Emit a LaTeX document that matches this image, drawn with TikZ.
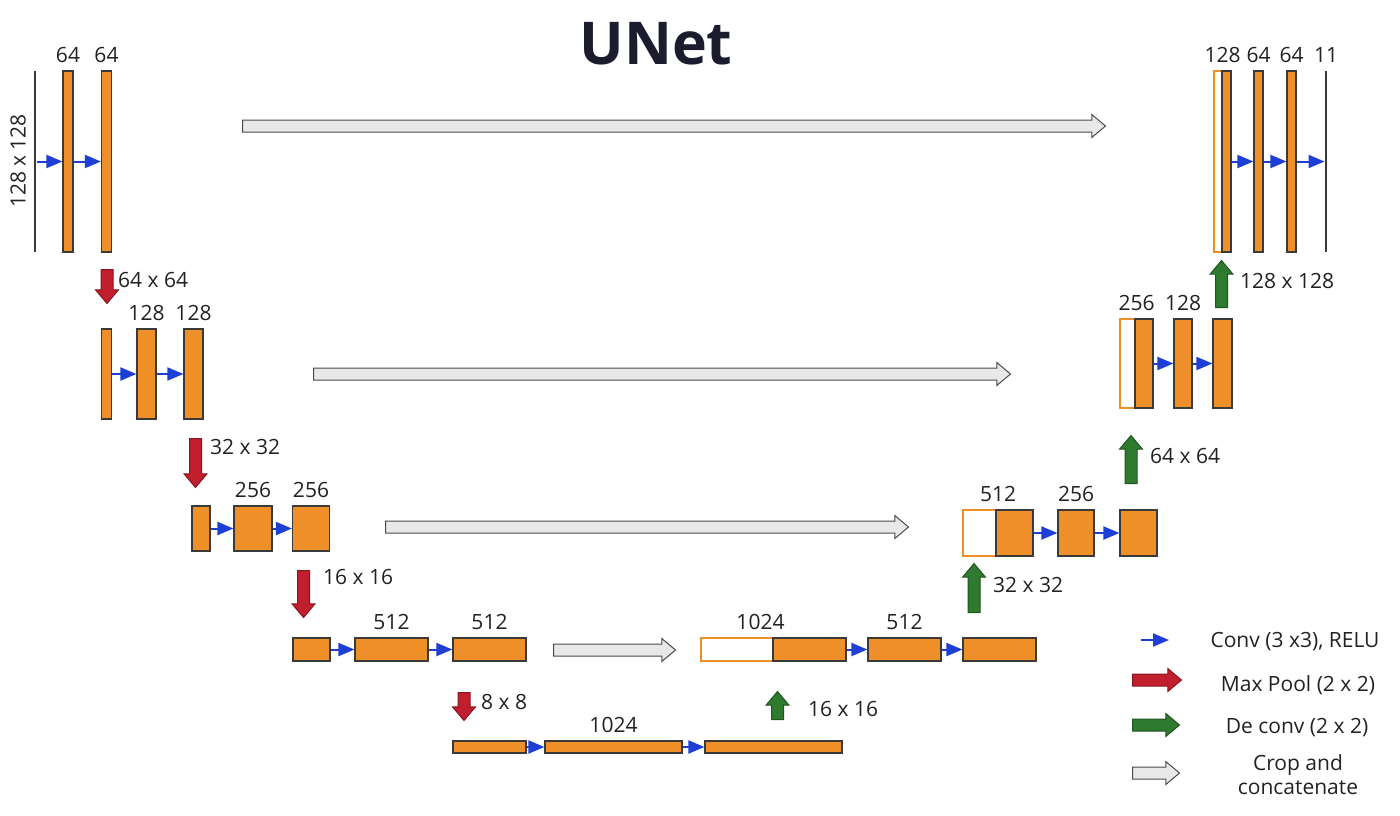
\documentclass[tikz,border=0pt]{standalone}
\usepackage{fontspec}
\setmainfont{Open Sans}
\usetikzlibrary{arrows.meta,shapes.arrows}

\definecolor{barfill}{HTML}{EF8F28}
\definecolor{barline}{HTML}{3A3A3A}
\definecolor{convblue}{HTML}{1D3FD6}
\definecolor{poolred}{HTML}{C21F2E}
\definecolor{upgreen}{HTML}{2E7A2E}
\definecolor{cropgray}{HTML}{E8E8E8}
\definecolor{cropline}{HTML}{4A4A4A}
\definecolor{txt}{HTML}{222222}
\definecolor{titlecol}{HTML}{1B1D2E}

\newcommand{\lbl}{\fontsize{21}{24}\selectfont}

\begin{document}
\begin{tikzpicture}[
		x=1pt, y=-1pt,
		label distance=8pt,
		every label/.style={font=\lbl, text=txt, inner sep=0pt},
		dims/.style 2 args={minimum width=#1, minimum height=#2},
		fmap/.style={draw=barline, line width=1.2pt, fill=barfill, inner sep=0pt},
		copyfmap/.style={draw=barfill, line width=1.2pt, fill=white, inner sep=0pt},
		imgline/.style={fill=barline, inner sep=0pt, minimum width=2.6pt},
		conv/.style={-{Triangle[length=16pt,width=13pt]}, line width=2pt, draw=convblue},
		fatarrow/.style={single arrow, anchor=tail, inner xsep=0pt, inner ysep=5.5pt, minimum width=22pt, single arrow head extend=5.5pt, single arrow tip angle=80, line width=1pt},
		pool/.style={fatarrow, fill=poolred, draw=poolred!70!black},
		upconv/.style={fatarrow, fill=upgreen, draw=upgreen!70!black},
		crop/.style={fatarrow, fill=cropgray, draw=cropline},
		dim/.style={font=\lbl, text=txt, inner sep=0pt, anchor=base west},
		legendtext/.style={font=\lbl, text=txt, inner sep=0pt, anchor=base, align=center},
	]
		\useasboundingbox[fill=white] (0,0) rectangle (1400,815);
		\node[font=\fontsize{59}{61}\selectfont\bfseries, text=titlecol, inner sep=0pt, anchor=base] (title) at (656,64) {UNet};

		% contracting path
		\node[imgline, minimum height=181pt] (in) at (35,161.5) {};
		\node[font=\lbl, text=txt, rotate=90, inner sep=0pt] (insize) at (18,161) {128 x 128};
		\node[fmap, dims={10pt}{181pt}, label=above:64] (e11) at (68,161.5) {};
		\node[fmap, dims={10pt}{181pt}, label=above:64] (e12) at (106.5,161.5) {};

		\node[fmap, dims={10pt}{90pt}] (e21) at (106.5,374) {};
		\node[fmap, dims={19pt}{90pt}, label=above:128] (e22) at (146.5,374) {};
		\node[fmap, dims={19pt}{90pt}, label=above:128] (e23) at (193.5,374) {};

		\node[fmap, dims={18pt}{45pt}] (e31) at (201,528.5) {};
		\node[fmap, dims={38pt}{45pt}, label=above:256] (e32) at (253,528.5) {};
		\node[fmap, dims={37pt}{45pt}, label=above:256] (e33) at (311,528.5) {};

		\node[fmap, dims={37pt}{23pt}] (e41) at (311.5,649.5) {};
		\node[fmap, dims={73pt}{23pt}, label=above:512] (e42) at (391.5,649.5) {};
		\node[fmap, dims={73pt}{23pt}, label=above:512] (e43) at (489.5,649.5) {};

		% bottleneck
		\node[fmap, dims={73pt}{12pt}] (b1) at (489.5,747) {};
		\node[fmap, dims={137pt}{12pt}, label=above:1024] (b2) at (613.5,747) {};
		\node[fmap, dims={137pt}{12pt}] (b3) at (773.5,747) {};

		% expanding path
		\node[copyfmap, dims={145pt}{23pt}, label={[xshift=-13pt]above:1024}] (c4) at (773.5,649.5) {};
		\node[fmap, dims={73pt}{23pt}] (d41) at (809.5,649.5) {};
		\node[fmap, dims={73pt}{23pt}, label=above:512] (d42) at (904.5,649.5) {};
		\node[fmap, dims={73pt}{23pt}] (d43) at (999.5,649.5) {};

		\node[copyfmap, dims={70pt}{46pt}, label=above:512] (c3) at (998,533) {};
		\node[fmap, dims={37pt}{46pt}] (d31) at (1014.5,533) {};
		\node[fmap, dims={36pt}{46pt}, label=above:256] (d32) at (1076,533) {};
		\node[fmap, dims={37pt}{46pt}] (d33) at (1138.5,533) {};

		\node[copyfmap, dims={33pt}{89pt}, label=above:256] (c2) at (1136.5,363.5) {};
		\node[fmap, dims={18pt}{89pt}] (d21) at (1144,363.5) {};
		\node[fmap, dims={18pt}{89pt}, label=above:128] (d22) at (1183,363.5) {};
		\node[fmap, dims={19pt}{89pt}] (d23) at (1222.5,363.5) {};

		\node[copyfmap, dims={17pt}{181pt}, label=above:128] (c1) at (1222.5,161.5) {};
		\node[fmap, dims={9pt}{181pt}] (d11) at (1226.5,161.5) {};
		\node[fmap, dims={9pt}{181pt}, label=above:64] (d12) at (1258.5,161.5) {};
		\node[fmap, dims={9pt}{181pt}, label=above:64] (d13) at (1291.5,161.5) {};
		\node[imgline, minimum height=181pt, label=above:11] (out) at (1326,161.5) {};

		% conv 3x3
		\draw[conv] (in) -- (e11);
		\draw[conv] (e11) -- (e12);
		\draw[conv] (e21) -- (e22);
		\draw[conv] (e22) -- (e23);
		\draw[conv] (e31) -- (e32);
		\draw[conv] (e32) -- (e33);
		\draw[conv] (e41) -- (e42);
		\draw[conv] (e42) -- (e43);
		\draw[conv] (b1) -- (b2);
		\draw[conv] (b2) -- (b3);
		\draw[conv] (d41) -- (d42);
		\draw[conv] (d42) -- (d43);
		\draw[conv] (d31) -- (d32);
		\draw[conv] (d32) -- (d33);
		\draw[conv] (d21) -- (d22);
		\draw[conv] (d22) -- (d23);
		\draw[conv] (d11) -- (d12);
		\draw[conv] (d12) -- (d13);
		\draw[conv] (d13) -- (out);

		% crop and concatenate
		\node[crop, minimum height=863pt] (crop1) at (242,126) {};
		\node[crop, minimum height=697pt] (crop2) at (313,374) {};
		\node[crop, minimum height=523pt] (crop3) at (385,527) {};
		\node[crop, minimum height=122pt] (crop4) at (553,650) {};

		% max pool
		\node[pool, rotate=-90, minimum height=34pt] (p1) at (107,269) {};
		\node[pool, rotate=-90, minimum height=49pt] (p2) at (195.5,438) {};
		\node[pool, rotate=-90, minimum height=47pt] (p3) at (303.5,570) {};
		\node[pool, rotate=-90, minimum height=28pt] (p4) at (464,692) {};
		\node[dim] (p1 size) at (118,287) {64 x 64};
		\node[dim] (p2 size) at (210,454) {32 x 32};
		\node[dim] (p3 size) at (323,584) {16 x 16};
		\node[dim] (p4 size) at (481,709) {8 x 8};

		% up conv
		\node[upconv, rotate=90, minimum height=28pt] (u1) at (777.5,720) {};
		\node[upconv, rotate=90, minimum height=49pt] (u2) at (974,613) {};
		\node[upconv, rotate=90, minimum height=48pt] (u3) at (1131,484) {};
		\node[upconv, rotate=90, minimum height=47pt] (u4) at (1221.5,308) {};
		\node[dim] (u1 size) at (808,716) {16 x 16};
		\node[dim] (u2 size) at (993,592) {32 x 32};
		\node[dim] (u3 size) at (1150,463) {64 x 64};
		\node[dim] (u4 size) at (1240,288) {128 x 128};

		% legend
		\coordinate (lg a) at (1141,640);
		\coordinate (lg b) at (1169,640);
		\draw[conv] (lg a) -- (lg b);
		\node[pool, minimum height=49pt] (lg pool) at (1132,680) {};
		\node[upconv, minimum height=47pt] (lg up) at (1132,725) {};
		\node[crop, minimum height=47pt] (lg crop) at (1132,773) {};
		\node[legendtext] (lg conv text) at (1295,647) {Conv (3 x3), RELU};
		\node[legendtext] (lg pool text) at (1298,691) {Max Pool (2 x 2)};
		\node[legendtext] (lg up text) at (1297,733) {De conv (2 x 2)};
		\node[legendtext, anchor=north] (lg crop text) at (1298,754) {Crop and\\concatenate};
	\end{tikzpicture}
\end{document}
